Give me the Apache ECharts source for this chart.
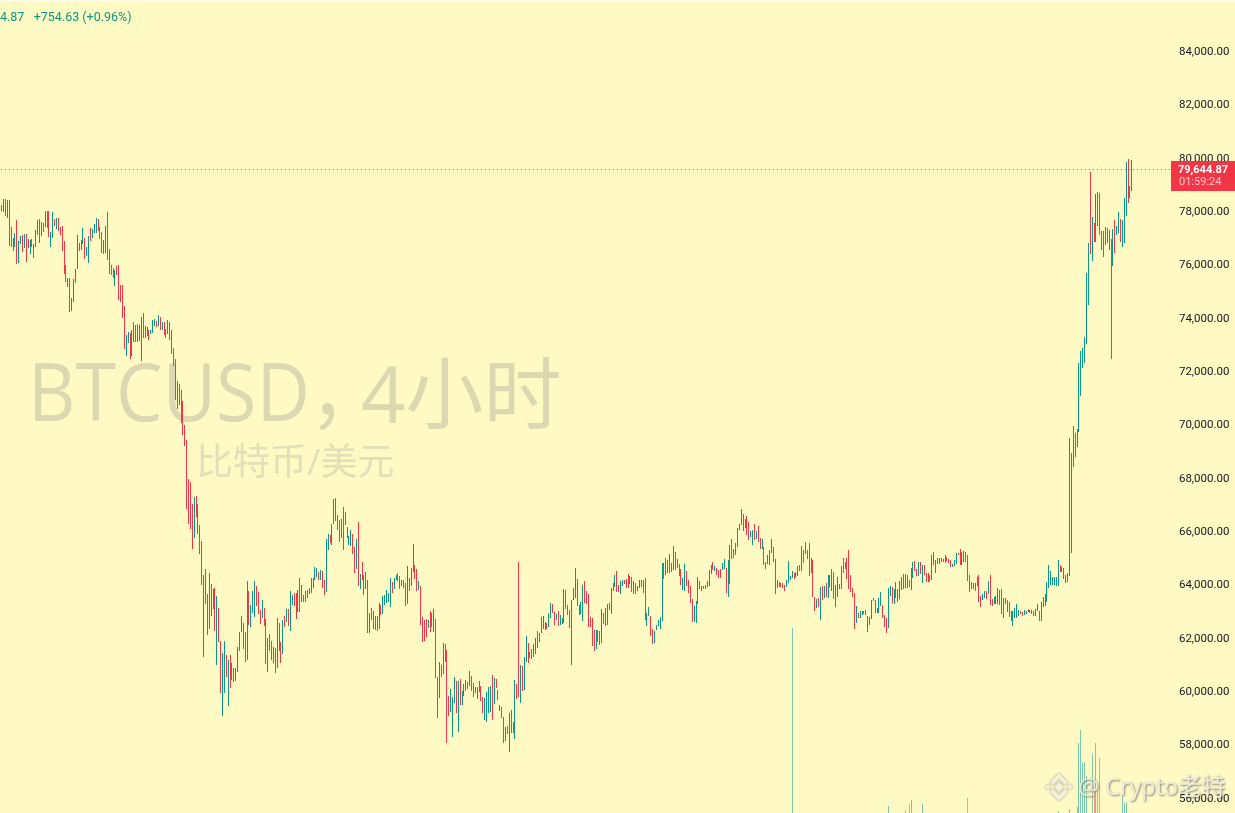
<!DOCTYPE html>
<html><head><meta charset="utf-8">
<style>html,body{margin:0;padding:0;background:#FFF9C4;overflow:hidden}#c{width:1235px;height:813px}</style>
<script src="https://cdn.jsdelivr.net/npm/echarts@6/dist/echarts.min.js"></script>
</head><body><div id="c"></div>
<script>
const highs=[
78230,78450,78450,78415,78415,77400,76990,77180,77665,76880,
77065,77100,77140,77140,76950,76915,76950,76765,77290,77665,
77700,77590,77550,78000,78000,78000,77215,77965,77700,77740,
77740,77400,77440,76880,75975,75490,75490,74740,75450,75850,
77100,76800,76915,77365,76990,76650,77065,77365,77325,77515,
77740,77700,77400,77215,76915,77440,77965,76575,75975,75865,
75790,75940,75975,75225,75225,74440,73350,73465,73425,73540,
73840,73725,73765,73725,74025,74175,73690,73650,73540,73540,
73915,73950,73875,74100,74025,73840,73840,73575,73915,73840,
73540,72865,72450,71630,71520,71295,70880,69980,69420,67960,
67845,67020,67280,67320,67020,66230,65630,64360,64580,63645,
64430,64020,63830,63870,63570,63120,61880,61430,61880,61360,
61170,61360,61060,60870,60870,61660,62220,62820,62560,62220,
64130,63760,63230,63760,64130,63945,63720,63045,63420,63120,
62710,61995,62145,61880,61660,61620,62745,62560,61845,62670,
62820,63080,63080,63760,63610,63680,63680,63795,64245,63980,
63610,63760,63795,63870,64245,64245,64660,64620,64470,64545,
64510,64170,65710,65895,65860,66270,67210,67245,66610,66420,
66460,66910,66720,66160,65820,66045,65895,65410,65710,66345,
64395,64845,64360,64470,64170,62930,63125,63010,62825,62825,
63310,63240,63575,63610,63800,63690,64250,64100,64250,64360,
64440,64325,64175,64175,64060,64700,64250,64625,65525,64740,
64590,64140,63950,62790,62675,62710,62675,63010,62940,63090,
62710,60540,61100,60990,61810,61775,61550,59825,60090,59790,
60540,60390,60390,60460,60010,60275,60425,60350,60760,60575,
60310,60160,60160,60390,60200,59790,59750,59975,60160,60200,
60610,60500,60460,60050,59490,59410,59040,58660,58700,59190,
59300,58850,60425,60275,64850,60990,60950,61290,62075,61810,
61475,61590,61775,62000,62260,62190,62790,62825,62600,62560,
62940,63310,63275,62975,62900,63010,62860,62750,63840,63800,
63240,63050,63425,63875,64625,64210,63240,63350,63990,64140,
63760,63650,62790,62750,62300,62300,62300,62260,63080,62930,
63120,63270,63310,63870,64060,64360,64510,63980,64130,64170,
64170,64210,64395,64320,64280,64130,64060,63945,64170,64170,
64170,64245,62930,63160,62820,62330,62260,62480,62670,62780,
64810,64810,65000,64920,65145,64810,65445,65220,64960,64770,
64580,64245,64770,64510,64170,63945,63460,63195,63380,64280,
64130,63945,63945,63980,64130,64545,64730,64845,64695,64620,
64545,64580,64810,64960,64620,64920,65480,65710,65330,65560,
66120,66270,66830,66645,66460,66570,66345,66010,66045,66270,
66010,66195,65745,65710,65410,64845,65110,65295,65710,65410,
64960,64170,64095,64060,64060,63980,64170,64880,64320,64510,
64430,64460,64695,64730,65445,65295,65595,65295,65560,64995,
64920,63530,63460,63495,63910,63945,63945,64060,64360,64360,
64590,64475,63990,64290,64025,64700,65000,64850,65000,65300,
64360,63875,63690,63200,62940,63010,63010,63010,63050,62825,
62790,63425,63500,63425,63125,63500,63725,63240,62860,62750,
63875,63950,63910,63840,64100,63840,64140,64290,64400,64400,
64360,64175,64625,64850,64890,64590,64850,64850,64740,64740,
64440,64440,64360,65110,65225,64925,65000,65000,65000,64960,
65110,65040,64960,64925,64775,64925,65190,65190,65340,65225,
65260,65225,65110,64360,64100,64060,64060,64290,64360,63575,
63650,63760,63760,64140,64360,63460,63540,63575,63875,63800,
63840,63500,63500,63425,63350,63010,63010,63125,63275,63050,
63010,62975,63050,63010,63090,63050,63050,63010,63090,63275,
63010,63350,63540,63650,64100,64740,64510,64290,64290,64290,
64925,64740,64660,64620,64360,64430,69495,68930,69945,69680,
69830,72310,72760,72870,73270,75670,76800,79465,77780,77550,
78640,78715,78680,77250,77250,77400,77365,77290,76950,77330,
77665,77440,77965,77700,77665,78490,79840,79950,78940,79915];
const lows=[
78015,77965,77815,77740,76690,76665,76515,76665,76025,76065,
76765,76465,76630,76090,76615,76390,76650,76240,76650,77100,
76800,77065,77215,77400,77365,77025,76650,76990,77440,77325,
77250,77100,76500,75640,75340,75150,74215,74250,74590,75300,
75850,76500,76540,76765,76200,76315,76050,76880,76990,77180,
77180,77250,76950,76425,76390,76425,76165,75640,75600,75490,
75190,75600,74665,74590,73990,72830,72565,73050,72450,72565,
73090,73090,73090,73125,72375,73240,73240,73315,73165,73390,
73425,73690,73650,73690,73540,73540,73350,73240,73390,73165,
72640,72190,70920,70580,70730,70060,69610,69195,66830,66270,
66080,65330,65745,66530,65895,65145,63980,61280,63270,62110,
62330,62820,63080,62260,60980,61845,59930,59070,59930,60530,
59450,60120,60420,60350,60380,60720,61510,62220,61580,61090,
61170,62480,62410,62930,62780,63195,62895,62520,62745,62445,
61020,60720,61510,61170,61060,60680,60870,61510,61060,61395,
62410,62595,62445,62260,63230,63195,62710,62970,62970,63345,
63345,63345,63495,63645,63680,63870,64170,64285,64170,64170,
63870,63610,63720,65295,65560,65480,66270,66380,66045,65595,
65745,65295,66230,65745,65480,65445,65145,64430,64580,63945,
63830,64170,63610,63830,62180,62180,62675,62340,62300,62260,
62340,62860,62900,63240,63310,63350,63160,63690,63840,64175,
64140,63840,63950,63875,63200,63275,63760,63950,64475,64210,
63760,63800,62490,61850,61890,62040,62375,62225,62410,62225,
60500,59000,59750,60540,60650,61100,58060,59075,59225,58290,
59560,59190,58475,59490,59490,59825,60010,60090,60200,60010,
59790,59940,59710,59975,59640,59190,58925,58850,59190,59225,
58925,59525,60125,59675,59260,59000,58060,58140,58400,57725,
58440,58440,58210,59710,59790,59560,60010,60050,61100,61060,
61250,61210,61290,61400,61625,61850,62190,62340,62300,62340,
62410,62750,62940,62490,62675,62450,62490,62525,62560,63090,
62860,62375,60990,63425,63500,63200,62860,62900,62640,63310,
63275,62410,62410,61700,61510,61590,61850,61740,61810,62520,
62445,62480,63045,62895,63760,63905,63720,63720,63645,63945,
64020,63870,63870,64020,63720,63645,63645,63760,63870,63905,
63680,62670,62445,62820,62070,61770,61810,62295,62445,62330,
62630,64210,64360,64430,64430,64470,64545,64545,64620,64320,
63980,63795,63760,63945,63680,63310,62595,62595,62560,63270,
63830,63760,63830,63830,63905,63945,64395,64545,64510,64360,
64245,64245,64545,64580,63680,63530,64020,64960,64995,65110,
65410,66045,66230,66010,66120,65860,65670,65780,65480,65670,
65710,65595,65330,65330,64730,64580,64770,64730,65180,64845,
63645,63870,63905,63910,63870,63760,63905,64060,64170,64245,
64210,64270,64320,64510,64510,64810,65145,64960,64320,64430,
63530,63010,63120,63160,62670,63420,63495,63530,63495,63895,
63760,63460,63160,63540,63840,63840,64440,64590,64210,63840,
63725,63540,62340,62560,62750,62750,62860,62900,62860,62225,
62490,62710,63390,62940,62940,62940,63200,62750,62410,62190,
62375,63575,63310,63275,63500,63350,63460,63800,63840,63875,
63875,63910,63800,64250,64510,64325,64325,64400,64060,64360,
64100,64100,64100,64175,64740,64440,64775,64775,64850,64850,
64810,64890,64810,64660,64660,64700,64775,65110,64740,64740,
64850,64850,64140,63725,63840,63840,63760,63950,63350,63160,
63425,63500,63460,63650,63240,63200,63275,63275,63275,63240,
62900,62750,63275,62975,62790,62640,62450,62750,62750,62825,
62900,62825,62860,62900,62975,62940,62900,62825,62825,63010,
62640,62640,63160,63200,63350,63875,63990,63990,63990,63950,
63950,64475,64470,64210,64060,64100,64320,65180,68410,68780,
69160,69720,71070,72120,72300,73010,74470,76390,76130,76840,
76840,77440,77100,76540,76280,76730,76800,76540,72450,75940,
76430,77100,77180,76840,76650,76800,77815,78300,78490,78750];
// G = up bar, R = down bar
const directions=(
"GGRGRRGGRG"+"GRGRRGRRGG"+"RGRGRRGGRG"+"RRRRRGRGGG"+"GGRGRGGRGG"+"GRRRGGRRRR"+
"GRRRRRGGRG"+"GRGGGRRGRG"+"GGRGRGRRGR"+"RRRGRRRRRR"+"RRGRRRRGRR"+"GRGRGRRGGR"+
"GRRRGGGGRR"+"GRGGGRRRGR"+"RGRRGRGRRG"+"RGRGGRRGRR"+"RRGGGGGGRG"+"RRGGRGGRRR"+
"GRRGGGRRGR"+"GRGRRGRRRR"+"GRGGGGGRGG"+"RRGRRGGGGR"+"RGRRRRGRRG"+"RRGRGRRRGG"+
"GRGRGGGRGR"+"RGGRRRGGGG"+"RGRRRRRGRG"+"RRGRRGRGGR"+"RRGGRGGGRR"+"GGRRGRGGGR"+
"RRGGGRRGGR"+"RRRRRGRGGR"+"GGRGRGRRGG"+"RRRGRGRGGG"+"RRGGRRGGGG"+"GRGRRGGRRR"+
"RGGRRRRGGG"+"RGGGGGGRGR"+"RRGGRGGRRG"+"GGGRGRRGGR"+"GRRGRRGGGR"+
"RGRRRRGGGG"+"RGGRGRRRRG"+"RRGRGRGRGG"+"RRGGRGRRRR"+
"RRRGRGGRRR"+"GGRRGGGRRR"+"GGRGRGGGRG"+"RRGGRRGRGR"+"RRRGRGRGRG"+
"GRRRGGGRRG"+"GRRRRGRGRR"+"GGRGRRGGGR"+"RRGRRRGGGG"+"RRGGRGRGGG"+
"RGGGGGGGGG"+"GRGRGGGRGR"+"GGGGGGGRGR"+"GRRRRGRRRG"+"RGGRGGGRRG").split("");
const barCount=620;
const volumeBars=[419,470,479,481,482,488,512,560,566,570,571,572,573,574,575,578,579,580,581,582,594,595,596];
const volumeValues=[185,7,3,9,13,9,15,2,4,6,70,83,50,51,37,59,23,70,23,55,20,10,11];
const priceTicks=[56000,84000,2000];
const priceLineLevel=79565;

const UP='#089981',DOWN='#F23645';
const cats=Array.from({length:barCount},(_,i)=>String(i));
const candles=highs.map((h,i)=>{const l=lows[i];return directions[i]==='G'?[i,l,h,l,h]:[i,h,l,l,h];});
const volumeData=volumeBars.map((b,i)=>[b,volumeValues[i]]);
function renderCandle(params,api){
  const i=api.value(0),o=api.value(1),c=api.value(2),l=api.value(3),h=api.value(4);
  const x=Math.floor(api.coord([i,h])[0]);
  const top=Math.round(api.coord([i,h])[1]),bot=Math.round(api.coord([i,l])[1]);
  return {type:'rect',shape:{x:x,y:top,width:1,height:Math.max(1,bot-top)},style:{fill:c>=o?UP:DOWN}};
}
function renderVolume(params,api){
  const i=api.value(0),v=api.value(1);
  const x=Math.floor(api.coord([i,v])[0]);
  const top=Math.round(api.coord([i,v])[1]),bot=Math.round(api.coord([i,0])[1]);
  return {type:'rect',shape:{x:x,y:top,width:1,height:bot-top},style:{fill:directions[i]==='G'?'rgba(38,166,154,0.6)':'rgba(239,83,80,0.55)'}};
}
const F='Roboto,"Open Sans",sans-serif';
const CJK='"Open Sans","Noto Sans CJK SC",sans-serif';
const SH={shadowBlur:2,shadowColor:'rgba(90,90,90,.7)'};
const chart=echarts.init(document.getElementById('c'),null,{renderer:'canvas',width:1235,height:813});
chart.setOption({
animation:false,backgroundColor:'#FFF9C4',
grid:[{left:0.85,width:1169.6,top:51.2,height:746.8},{left:0.85,width:1169.6,top:613,height:200},{left:0.85,width:1169.6,top:52.1,height:746.8}],
xAxis:[{type:'category',data:cats,gridIndex:0,show:false},{type:'category',data:cats,gridIndex:1,show:false},{type:'category',data:cats,gridIndex:2,show:false}],
yAxis:[{type:'value',gridIndex:0,min:priceTicks[0],max:priceTicks[1],interval:priceTicks[2],show:false},
 {type:'value',gridIndex:1,min:0,max:200,show:false},
 {type:'value',position:'right',gridIndex:2,min:priceTicks[0],max:priceTicks[1],interval:priceTicks[2],
 axisLine:{show:false},axisTick:{show:false},splitLine:{show:false},
 axisLabel:{margin:59,align:'right',color:'#131722',fontSize:11.5,fontFamily:F,
  formatter:v=>v.toLocaleString('en-US',{minimumFractionDigits:2,maximumFractionDigits:2})}}],
series:[
 {type:'custom',xAxisIndex:1,yAxisIndex:1,data:volumeData,renderItem:renderVolume,silent:true,z:1,clip:false,encode:{x:0,y:1}},
 {type:'custom',xAxisIndex:0,yAxisIndex:0,data:candles,renderItem:renderCandle,silent:true,z:3,clip:false,progressive:0,encode:{x:0,y:[3,4]},
  markLine:{silent:true,symbol:'none',animation:false,label:{show:false},
   lineStyle:{color:DOWN,width:1,type:[1,3]},data:[{yAxis:priceLineLevel}]}}
],
graphic:[
 {type:'rect',z:0,shape:{x:0,y:0,width:1235,height:1},style:{fill:'#FFFDE7'}},
 {type:'text',z:0,x:28,y:398,scaleX:0.92,style:{text:'BTCUSD，',fill:'#DCD8B0',font:'80px '+CJK,textVerticalAlign:'middle'}},
 {type:'text',z:0,x:361,y:401,style:{text:'4小时',fill:'#DCD8B0',font:'78px '+CJK,textVerticalAlign:'middle'}},
 {type:'text',z:0,x:196,y:464,style:{text:'比特币/美元',fill:'#E3DFB8',font:'37px '+CJK,textVerticalAlign:'middle'}},
 {type:'text',z:10,x:0,y:18,style:{text:'4.87   +754.63 (+0.96%)',fill:UP,font:'12.5px '+F,textVerticalAlign:'middle'}},
 {type:'rect',z:20,shape:{x:1171,y:161,width:64,height:30},style:{fill:'#F23645'}},
 {type:'text',z:21,x:1228,y:170,style:{text:'79,644.87',fill:'#fff',font:'bold 11px '+F,textAlign:'right',textVerticalAlign:'middle'}},
 {type:'text',z:21,x:1179,y:182.5,style:{text:'01:59:24',fill:'#FFC6CB',font:'11px '+F,textAlign:'left',textVerticalAlign:'middle'}},
 {type:'group',z:30,x:1059,y:787,children:[
  {type:'polygon',z:30,shape:{points:[[0,-5],[5,0],[0,5],[-5,0]]},style:Object.assign({fill:'#F3F1DC'},SH)},
  {type:'polygon',z:30,shape:{points:[[-14,0],[-11,-3],[-8,0],[-11,3]]},style:Object.assign({fill:'#F3F1DC'},SH)},
  {type:'polygon',z:30,shape:{points:[[14,0],[11,-3],[8,0],[11,3]]},style:Object.assign({fill:'#F3F1DC'},SH)},
  {type:'polygon',z:30,shape:{points:[[0,-14],[9,-5],[6,-2],[0,-8],[-6,-2],[-9,-5]]},style:Object.assign({fill:'#F3F1DC'},SH)},
  {type:'polygon',z:30,shape:{points:[[0,14],[9,5],[6,2],[0,8],[-6,2],[-9,5]]},style:Object.assign({fill:'#F3F1DC'},SH)}
 ]},
 {type:'text',z:30,x:1078,y:788,style:{text:'@ Crypto老特',fill:'#EFEDDA',font:'23.5px '+CJK,textVerticalAlign:'middle',textShadowBlur:2,textShadowColor:'rgba(80,80,80,.7)',textShadowOffsetX:1,textShadowOffsetY:1}}
]});
</script></body></html>
